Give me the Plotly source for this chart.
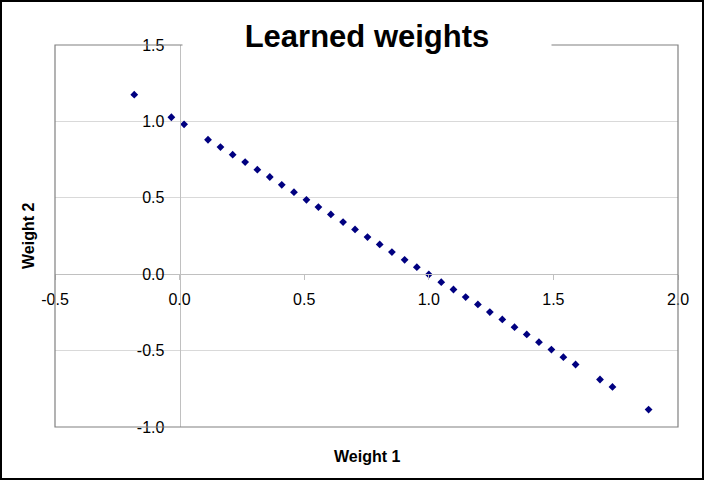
import plotly.graph_objects as go

# learned weight pairs
weight_1 = [-0.182, -0.033, 0.018, 0.114, 0.164, 0.213, 0.263, 0.312, 0.362, 0.410,
            0.459, 0.509, 0.557, 0.607, 0.656, 0.704, 0.754, 0.803, 0.852, 0.903,
            0.952, 1.000, 1.050, 1.099, 1.148, 1.197, 1.245, 1.295, 1.344, 1.393,
            1.442, 1.492, 1.540, 1.589, 1.687, 1.737, 1.882]
weight_2 = [1.175, 1.027, 0.981, 0.880, 0.832, 0.782, 0.734, 0.684, 0.636, 0.585,
            0.537, 0.487, 0.439, 0.391, 0.341, 0.293, 0.243, 0.195, 0.145, 0.094,
            0.046, -0.002, -0.052, -0.100, -0.150, -0.198, -0.248, -0.296, -0.347, -0.394,
            -0.445, -0.493, -0.543, -0.591, -0.689, -0.738, -0.886]

x_ticks = [-0.5, 0.0, 0.5, 1.0, 1.5, 2.0]
y_ticks = [-1.0, -0.5, 0.0, 0.5, 1.0, 1.5]
x_range = [-0.5, 2.0]
y_range = [-1.0, 1.5]

W, H = 704, 480
L, R, T, B = 55, 26, 45, 53
pw, ph = W - L - R, H - T - B

# axes cross at zero like the Excel original
x_pos = (0 - y_range[0]) / (y_range[1] - y_range[0])
y_pos = (0 - x_range[0]) / (x_range[1] - x_range[0])

fig = go.Figure()
fig.add_trace(go.Scatter(x=weight_1, y=weight_2, mode='markers',
                         marker=dict(symbol='diamond', size=6, color='#000080')))

font = dict(family='Arial, Liberation Sans', color='black')
fig.update_layout(
    width=W, height=H, showlegend=False,
    margin=dict(l=L, r=R, t=T, b=B),
    plot_bgcolor='white', paper_bgcolor='white',
    font=dict(family='Arial, Liberation Sans', size=16, color='black'),
    xaxis=dict(range=x_range, tickvals=x_ticks, ticktext=['%.1f' % v for v in x_ticks],
               showgrid=False, zeroline=False, showline=True, linecolor='#c0c0c0',
               ticks='outside', ticklen=5, tickcolor='#c0c0c0',
               anchor='free', position=x_pos, ticklabelstandoff=6),
    yaxis=dict(range=y_range, tickvals=y_ticks, ticktext=['%.1f' % v for v in y_ticks],
               showgrid=True, gridcolor='#d9d9d9', zeroline=False, showline=True,
               linecolor='#c0c0c0', ticks='', anchor='free', position=y_pos,
               ticklabelstandoff=12),
)

# plot area border and outer chart border
fig.add_shape(type='rect', xref='paper', yref='paper', x0=0, x1=1, y0=0, y1=1,
              line=dict(color='#808080', width=1.2))
fig.add_shape(type='rect', xref='paper', yref='paper',
              x0=-(L - 1) / pw, x1=1 + (R - 1) / pw, y0=-(B - 1) / ph, y1=1 + (T - 1) / ph,
              line=dict(color='black', width=2))

# title sits on a white box that hides part of the plot border
fig.add_annotation(text='<b>Learned weights</b>', xref='paper', yref='paper',
                   x=0.5, y=1 + 8 / ph, yanchor='middle', showarrow=False, width=362,
                   bgcolor='white', borderpad=3, font=dict(size=31, **font))
fig.add_annotation(text='<b>Weight 1</b>', xref='paper', yref='paper',
                   x=0.5, xanchor='center', y=-30 / ph, yanchor='middle', showarrow=False,
                   font=dict(size=16, **font))
fig.add_annotation(text='<b>Weight 2</b>', xref='paper', yref='paper',
                   x=-27 / pw, xanchor='center', y=(H - B - 236) / ph, yanchor='middle',
                   textangle=-90, showarrow=False, font=dict(size=16, **font))

fig.write_html('out.html', config={'displayModeBar': False},
               post_script="document.body.style.margin='0';")
